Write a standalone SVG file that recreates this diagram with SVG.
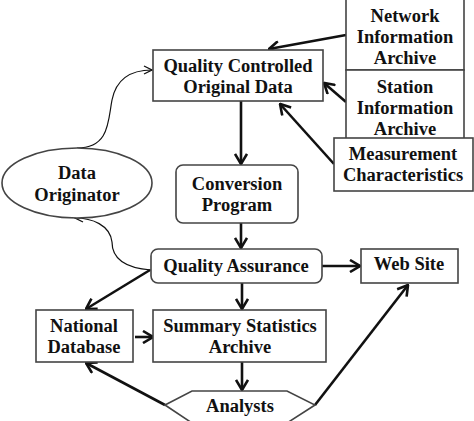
<svg xmlns="http://www.w3.org/2000/svg" width="474" height="421" viewBox="0 0 474 421">
<style>
.box{fill:#fff;stroke:#444;stroke-width:1.6}
.t{font-family:"Liberation Serif","Times New Roman",serif;font-weight:bold;font-size:18.5px;fill:#111;text-anchor:middle}
.a{fill:none;stroke:#111;stroke-width:2.6}
.c{fill:none;stroke:#111;stroke-width:1.2}
</style>
<defs>
<marker id="ah" markerUnits="userSpaceOnUse" viewBox="0 0 12 14" refX="11" refY="7" markerWidth="12" markerHeight="14" orient="auto">
<path d="M1,1 L11,7 L1,13" fill="none" stroke="#111" stroke-width="2.6"/>
</marker>
<marker id="sh" markerUnits="userSpaceOnUse" viewBox="0 0 10 10" refX="9" refY="5" markerWidth="10" markerHeight="10" orient="auto">
<path d="M1,1 L9,5 L1,9" fill="none" stroke="#111" stroke-width="1.3"/>
</marker>
</defs>
<rect width="474" height="421" fill="#fff"/>
<g id="connectors">
<line class="a" x1="346" y1="35" x2="269" y2="49" marker-end="url(#ah)"/>
<line class="a" x1="346" y1="102" x2="324" y2="83" marker-end="url(#ah)"/>
<line class="a" x1="334" y1="164" x2="280" y2="104" marker-end="url(#ah)"/>
<line class="a" x1="241" y1="101" x2="241" y2="164" marker-end="url(#ah)"/>
<line class="a" x1="241" y1="223" x2="241" y2="248" marker-end="url(#ah)"/>
<line class="a" x1="322" y1="266" x2="360" y2="266" marker-end="url(#ah)"/>
<line class="a" x1="242" y1="283" x2="242" y2="309" marker-end="url(#ah)"/>
<line class="a" x1="150" y1="270" x2="86" y2="309" marker-end="url(#ah)"/>
<line class="a" x1="135" y1="337" x2="153" y2="337" marker-end="url(#ah)"/>
<line class="a" x1="242" y1="362" x2="242" y2="390" marker-end="url(#ah)"/>
<line class="a" x1="165" y1="405" x2="86" y2="363" marker-end="url(#ah)"/>
<line class="a" x1="315" y1="405" x2="408" y2="285" marker-end="url(#ah)"/>
<path class="c" d="M77,148 C110,148 108,120 112,100 C116,80 130,70 152,70" marker-end="url(#sh)"/>
<path class="c" d="M151,270 C125,268 112,258 112,242 C110,225 92,218 75,218" marker-end="url(#sh)"/>
</g>
<g id="network">
<rect class="box" x="346" y="-2" width="118" height="72"/>
<text class="t" x="405" y="22">Network</text>
<text class="t" x="405" y="43">Information</text>
<text class="t" x="405" y="64">Archive</text>
</g>
<g id="station">
<rect class="box" x="346" y="70" width="118" height="70"/>
<text class="t" x="405" y="93">Station</text>
<text class="t" x="405" y="114">Information</text>
<text class="t" x="405" y="135">Archive</text>
</g>
<g id="measurement">
<rect class="box" x="334" y="138" width="139" height="53"/>
<text class="t" x="403" y="160">Measurement</text>
<text class="t" x="403" y="181">Characteristics</text>
</g>
<g id="qcod">
<rect class="box" x="153" y="50" width="170" height="51"/>
<text class="t" x="238" y="72">Quality Controlled</text>
<text class="t" x="238" y="93">Original Data</text>
</g>
<g id="originator">
<ellipse class="box" cx="77" cy="183" rx="75" ry="35"/>
<text class="t" x="77" y="179">Data</text>
<text class="t" x="77" y="201">Originator</text>
</g>
<g id="conversion">
<rect class="box" x="176" y="165" width="122" height="58" rx="7"/>
<text class="t" x="237" y="190">Conversion</text>
<text class="t" x="237" y="211">Program</text>
</g>
<g id="qa">
<rect class="box" x="151" y="249" width="171" height="34" rx="7"/>
<text class="t" x="236" y="272">Quality Assurance</text>
</g>
<g id="website">
<rect class="box" x="361" y="249" width="97" height="34"/>
<text class="t" x="409" y="270">Web Site</text>
</g>
<g id="national">
<rect class="box" x="36" y="310" width="97" height="52"/>
<text class="t" x="84" y="332">National</text>
<text class="t" x="84" y="353">Database</text>
</g>
<g id="summary">
<rect class="box" x="153" y="310" width="173" height="52"/>
<text class="t" x="240" y="332">Summary Statistics</text>
<text class="t" x="240" y="353">Archive</text>
</g>
<g id="analysts">
<polygon class="box" points="165,405 192,391 287,391 315,405 287,423 192,423"/>
<text class="t" x="240" y="412">Analysts</text>
</g>
</svg>
